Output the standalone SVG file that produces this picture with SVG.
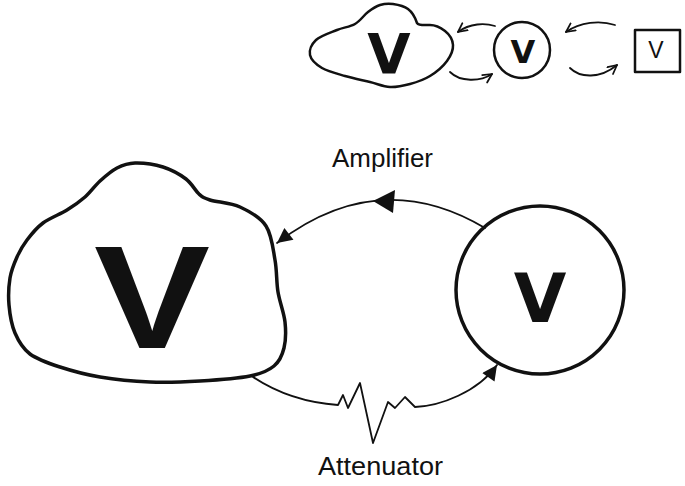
<svg xmlns="http://www.w3.org/2000/svg" width="685" height="486" viewBox="0 0 685 486">
<defs>
<style>
.outline{fill:none;stroke:#111;stroke-linejoin:round;stroke-linecap:round}
.thick{stroke-width:3.5}
.mid{stroke-width:2.5}
.conn{fill:none;stroke:#111;stroke-width:1.8;stroke-linecap:round;stroke-linejoin:round}
.bigv{font-family:"DejaVu Sans",sans-serif;font-weight:bold;fill:#111;text-anchor:middle}
.label{font-family:"Liberation Sans",Arial,sans-serif;font-size:25px;fill:#111}
</style>
<marker id="solid" viewBox="0 0 10 10" refX="10" refY="5" markerWidth="18" markerHeight="15" markerUnits="userSpaceOnUse" orient="auto">
<path d="M0,0 L10,5 L0,10 Z" fill="#111"/>
</marker>
<marker id="open" viewBox="0 0 10 10" refX="9" refY="5" markerWidth="11" markerHeight="11" markerUnits="userSpaceOnUse" orient="auto">
<path d="M1,1 L9,5 L1,9" fill="none" stroke="#111" stroke-width="1.6" stroke-linecap="round" stroke-linejoin="round"/>
</marker>
</defs>
<rect width="685" height="486" fill="#fff"/>

<g id="connectors">
<path class="conn" d="M485,228 Q379,165 277,243" marker-end="url(#solid)"/>
<polygon points="373,201 395,190 393,213" fill="#111"/>
<path class="conn" d="M253,377 C280,395 310,403 338,405 L343,395 L348,408 L360,383 L373,443 L388,402 L395,408 L405,397 L415,407 C440,406 478,392 497,365" marker-end="url(#solid)"/>
<path class="conn" d="M495,26 C485,23 470,23 458,32" marker-end="url(#open)"/>
<path class="conn" d="M450,72 C460,82 480,82 492,74" marker-end="url(#open)"/>
<path class="conn" d="M615,25 C600,20 580,22 566,32" marker-end="url(#open)"/>
<path class="conn" d="M570,68 C580,78 600,79 617,65" marker-end="url(#open)"/>
</g>

<g id="big-cloud">
<path class="outline thick" d="M135,163 C142.7,162.8 154.5,164.3 163,167 C171.5,169.7 180,174.5 186,179 C192,183.5 195,190.5 199,194 C203,197.5 203.2,197.8 210,200 C216.8,202.2 230.7,202.7 240,207 C249.3,211.3 260.2,217.2 266,226 C271.8,234.8 273,249 275,260 C277,271 276.3,281.7 278,292 C279.7,302.3 284,312.7 285,322 C286,331.3 285.8,340.7 284,348 C282.2,355.3 279.7,361.3 274,366 C268.3,370.7 262.3,373.5 250,376 C237.7,378.5 216.7,380 200,381 C183.3,382 166.7,382.7 150,382 C133.3,381.3 115,379.5 100,377 C85,374.5 71.7,370.8 60,367 C48.3,363.2 37.5,359.7 30,354 C22.5,348.3 18.5,341.2 15,333 C11.5,324.8 9.8,314.2 9,305 C8.2,295.8 8.7,286 10,278 C11.3,270 14.2,263.3 17,257 C19.8,250.7 22.7,245.7 27,240 C31.3,234.3 36.3,228 43,223 C49.7,218 60,214.3 67,210 C74,205.7 79.5,201.8 85,197 C90.5,192.2 94.7,185.8 100,181 C105.3,176.2 111.2,171 117,168 C122.8,165 127.3,163.2 135,163 Z"/>
<text x="152" y="348" font-family="Liberation Sans, Arial, sans-serif" font-weight="bold" font-size="146" fill="#111" textLength="116" lengthAdjust="spacingAndGlyphs" text-anchor="middle">V</text>
</g>

<g id="big-circle">
<circle class="outline thick" cx="540" cy="290" r="84"/>
<text class="bigv" x="540" y="322" font-size="68">V</text>
</g>

<g id="small-cloud">
<path class="outline mid" d="M393,4 C397.7,4.7 404.2,6.2 408,9 C411.8,11.8 415,17 417,23 C419,26 425,25 430,25 C435,25 440.8,27.7 445,31 C449.2,34.3 452.7,40 453,45 C453.3,50 450.8,55.8 447,61 C443.2,66.2 436.2,72.2 430,76 C423.8,79.8 416.7,82.2 410,84 C403.3,85.8 396.7,87.3 390,87 C383.3,86.7 377.5,83.8 370,82 C362.5,80.2 353,78.3 345,76 C337,73.7 327.8,71.5 322,68 C316.2,64.5 311,59.7 310,55 C309,50.3 311.5,44.2 316,40 C320.5,35.8 330.5,32.7 337,30 C343.5,27.3 349.8,27 355,24 C360.2,21 363.8,15.2 368,12 C372.2,8.8 375.8,6.3 380,5 C384.2,3.7 388.3,3.3 393,4 Z"/>
<text class="bigv" x="389" y="73" font-size="56">V</text>
</g>

<g id="small-circle">
<circle class="outline mid" cx="522" cy="50" r="28"/>
<text class="bigv" x="523" y="63" font-size="32">V</text>
</g>

<g id="small-square">
<rect class="outline mid" x="635" y="30" width="45" height="42"/>
<text x="656" y="58" font-family="Liberation Sans, Arial, sans-serif" font-size="23" fill="#111" text-anchor="middle">V</text>
</g>

<g id="labels">
<text class="label" x="332" y="167" textLength="101" lengthAdjust="spacingAndGlyphs">Amplifier</text>
<text class="label" x="318" y="475" textLength="125" lengthAdjust="spacingAndGlyphs">Attenuator</text>
</g>
</svg>
